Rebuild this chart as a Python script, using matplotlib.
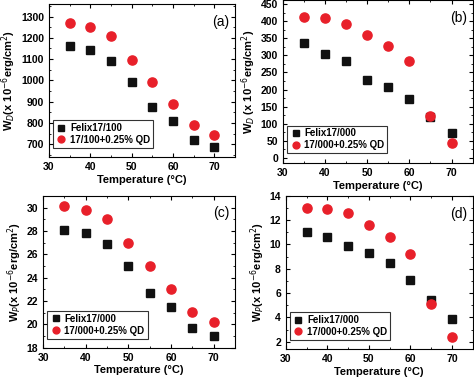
import matplotlib
matplotlib.use("Agg")
from matplotlib import pyplot as plt
from matplotlib.ticker import AutoMinorLocator

plt.rcParams['font.family'] = ['Liberation Sans', 'DejaVu Sans']

temps = [35, 40, 45, 50, 55, 60, 65, 70]

a_felix = [1160, 1143, 1092, 993, 873, 810, 720, 688]
a_qd = [1272, 1252, 1207, 1098, 992, 887, 790, 745]

b_felix = [335, 305, 285, 228, 208, 172, 120, 72]
b_qd = [413, 410, 392, 360, 328, 285, 123, 45]

c_felix = [28.1, 27.8, 26.9, 25.0, 22.7, 21.5, 19.7, 19.0]
c_qd = [30.1, 29.75, 29.0, 27.0, 25.0, 23.0, 21.1, 20.2]

d_felix = [11.0, 10.6, 9.9, 9.3, 8.5, 7.05, 5.45, 3.85]
d_qd = [13.0, 12.9, 12.55, 11.6, 10.65, 9.2, 5.1, 2.4]

labels_a = ["Felix17/100", "17/100+0.25% QD"]
labels_o = ["Felix17/000", "17/000+0.25% QD"]

fig = plt.figure(figsize=(4.74, 3.81), dpi=100)

panels = [
    # rect, felix, qd, ylim, yticks, ylabel, tag, legend labels
    ([0.103, 0.588, 0.393, 0.402], a_felix, a_qd, (640, 1360), range(700, 1301, 100),
     r"W$_D$(x 10$^{-6}$erg/cm$^2$)", "(a)", labels_a),
    ([0.597, 0.572, 0.400, 0.428], b_felix, b_qd, (-15, 462), range(0, 451, 50),
     r"W$_D$ (x 10$^{-6}$erg/cm$^2$)", "(b)", labels_o),
    ([0.091, 0.087, 0.405, 0.399], c_felix, c_qd, (18, 31), range(18, 31, 2),
     r"W$_P$(x 10$^{-6}$erg/cm$^2$)", "(c)", labels_o),
    ([0.603, 0.084, 0.394, 0.402], d_felix, d_qd, (1.4, 14), range(2, 15, 2),
     r"W$_P$(x 10$^{-6}$erg/cm$^2$)", "(d)", labels_o),
]

for rect, felix, qd, ylim, yticks, ylabel, tag, labs in panels:
    ax = fig.add_axes(rect)
    ax.plot(temps, felix, 's', color='#111111', ms=6, label=labs[0])
    ax.plot(temps, qd, 'o', color='#e8202a', ms=6.6, label=labs[1])
    ax.set_xlim(30, 75)
    ax.set_ylim(*ylim)
    ax.set_xticks([30, 40, 50, 60, 70])
    ax.set_yticks(list(yticks))
    ax.xaxis.set_minor_locator(AutoMinorLocator(2))
    ax.yaxis.set_minor_locator(AutoMinorLocator(2))
    ax.tick_params(which='both', direction='in', top=True, right=True, labelsize=7.5)
    ax.tick_params(which='major', length=3)
    ax.tick_params(which='minor', length=1.5)
    for lab in ax.get_xticklabels() + ax.get_yticklabels():
        lab.set_fontweight('bold')
    ax.set_xlabel("Temperature (°C)", fontsize=8, fontweight='bold', labelpad=2)
    ax.set_ylabel(ylabel, fontsize=8, fontweight='bold', labelpad=2)
    ax.text(0.97, 0.93, tag, transform=ax.transAxes, ha='right', va='top', fontsize=10)
    leg = ax.legend(loc='lower left', bbox_to_anchor=(0.02, 0.06), fancybox=False,
                    edgecolor='black', prop={'size': 7, 'weight': 'bold'},
                    markerscale=0.75, handletextpad=0.3, borderpad=0.3,
                    labelspacing=0.2, handlelength=1.2, borderaxespad=0)
    leg.get_frame().set_linewidth(0.8)

fig.savefig("out.png", dpi=100)
